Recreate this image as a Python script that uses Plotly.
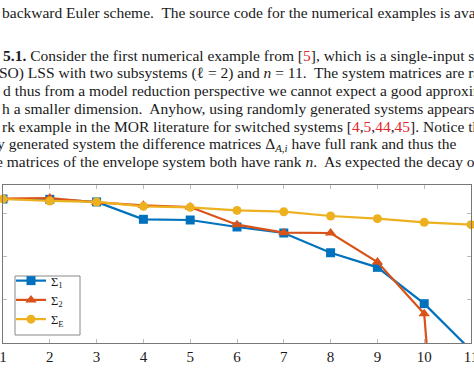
import plotly.graph_objects as go

x_vals = [1, 2, 3, 4, 5, 6, 7, 8, 9, 10, 11]
sigma1 = [2.19, 2.15, 1.87, 0.74, 0.713, 0.491, 0.356, 0.124, 0.0569, 0.00817, 0.000676]
sigma2 = [2.23, 2.31, 1.83, 1.56, 1.43, 0.556, 0.362, 0.356, 0.0757, 0.00479, 1.2e-16]
sigmaE = [2.19, 1.97, 1.87, 1.48, 1.40, 1.19, 1.11, 0.883, 0.766, 0.630, 0.556]
names = ["Σ<sub>1</sub>", "Σ<sub>2</sub>", "Σ<sub>E</sub>"]
x_ticks = [1, 2, 3, 4, 5, 6, 7, 8, 9, 10, 11]

RED = "#e0262b"
text_lines = [
    "backward Euler scheme.  The source code for the numerical examples is available",
    "<b>5.1.</b> Consider the first numerical example from [<span style='color:%s'>5</span>], which is a single-input single-output" % RED,
    "SO) LSS with two subsystems (ℓ = 2) and <i>n</i> = 11.  The system matrices are randomly",
    "d thus from a model reduction perspective we cannot expect a good approximation",
    "h a smaller dimension.  Anyhow, using randomly generated systems appears to be",
    "rk example in the MOR literature for switched systems [<span style='color:%s'>4</span>,<span style='color:%s'>5</span>,<span style='color:%s'>44</span>,<span style='color:%s'>45</span>]. Notice that" % (RED, RED, RED, RED),
    "y generated system the difference matrices Δ<sub><i>A,i</i></sub> have full rank and thus the",
    "e matrices of the envelope system both have rank <i>n</i>.  As expected the decay of",
]
line_x_px = [0, 1, -3, 1, 0, 0, -5, -6]
line_base_px = [17, 60, 78, 96, 113, 131, 149, 166]

W, H = 474, 369
L, R, T, B = 3, 3, 185, 26
pw, ph = W - L - R, H - T - B


def px_x(p):
    return (p - L) / pw


def px_y(p):
    return (T + ph - p) / ph


colors = ["#0072BD", "#D95319", "#EDB120"]
symbols = ["square", "triangle-up", "circle"]
series = [sigma1, sigma2, sigmaE]

fig = go.Figure()
for i, (ys, nm) in enumerate(zip(series, names)):
    fig.add_trace(go.Scatter(
        x=x_vals, y=ys, name=nm, mode="lines+markers",
        line=dict(color=colors[i], width=2.2),
        marker=dict(symbol=symbols[i], size=9 if i != 1 else 10, color=colors[i]),
        cliponaxis=(i != 2),
    ))

serif = "Liberation Serif"
for s, xp, bp in zip(text_lines, line_x_px, line_base_px):
    fig.add_annotation(
        text=s, xref="paper", yref="paper",
        x=px_x(xp), y=px_y(bp - 5),
        xanchor="left", yanchor="middle", showarrow=False,
        font=dict(family=serif, size=15.5, color="#1a1a1a"), align="left",
    )

# legend frame
fig.add_shape(type="rect", xref="paper", yref="paper",
              x0=px_x(15), x1=px_x(80), y0=px_y(335), y1=px_y(276),
              line=dict(color="#888888", width=1), fillcolor="white", layer="below")

fig.update_layout(
    width=W, height=H, margin=dict(l=L, r=R, t=T, b=B, autoexpand=False),
    paper_bgcolor="white", plot_bgcolor="white",
    showlegend=True,
    legend=dict(x=px_x(11), y=px_y(334), xanchor="left", yanchor="bottom",
                borderwidth=0, bgcolor="rgba(0,0,0,0)",
                font=dict(family=serif, size=12.5, color="#1a1a1a"),
                itemwidth=30, tracegroupgap=0),
    font=dict(family=serif, size=15, color="#1a1a1a"),
)
fig.update_xaxes(range=[1, 11], tickvals=x_ticks, ticks="inside", ticklen=4,
                 tickcolor="#bbbbbb", showline=True, linecolor="#777777", linewidth=1,
                 mirror="ticks", showgrid=False, zeroline=False, automargin=False,
                 ticklabeloverflow="allow",
                 tickfont=dict(family=serif, size=15, color="#1a1a1a"))
fig.update_yaxes(type="log", range=[-3, 0.665], tickvals=[1e-3, 1e-2, 1e-1, 1],
                 ticks="inside", ticklen=4, tickcolor="#bbbbbb", showline=True,
                 linecolor="#777777", linewidth=1, mirror="ticks", showgrid=False,
                 zeroline=False, showticklabels=False, automargin=False)

fig.write_html("out.html", config={"displayModeBar": False},
               post_script="document.body.style.margin='0';document.body.style.overflow='hidden';")
